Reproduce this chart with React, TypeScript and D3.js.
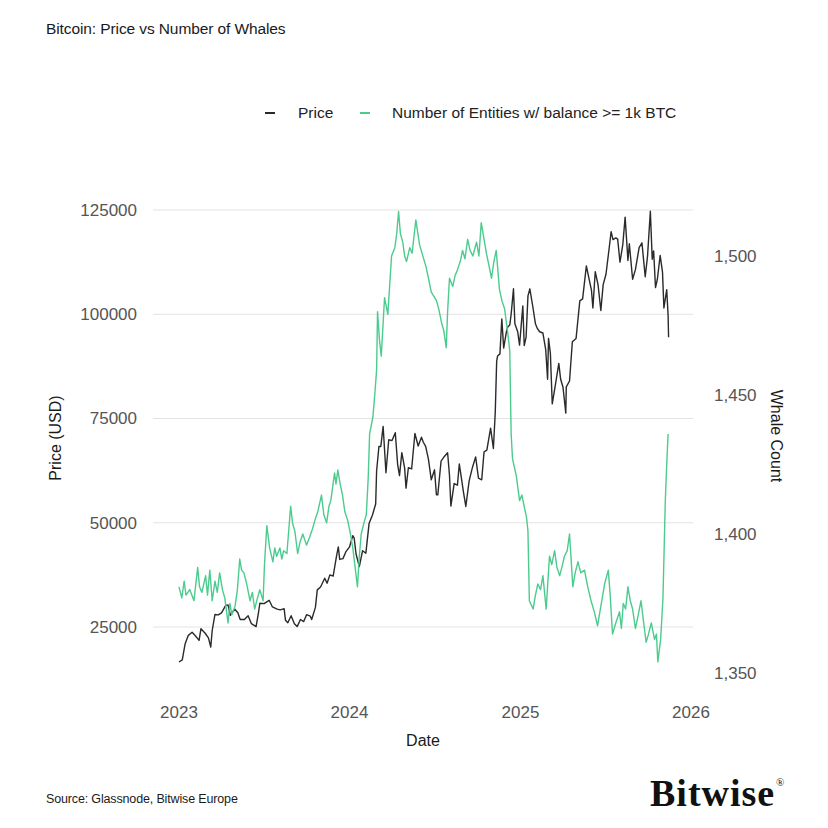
import React, { useEffect } from 'react';
import * as d3 from 'd3';

// Bitcoin price (USD, daily close sampled)
const priceDates = [
  '2023-01-01','2023-01-08','2023-01-14','2023-01-21','2023-01-29','2023-02-05','2023-02-13','2023-02-17','2023-02-26','2023-03-05',
  '2023-03-10','2023-03-13','2023-03-19','2023-03-26','2023-04-02','2023-04-11','2023-04-16','2023-04-21','2023-04-30','2023-05-07',
  '2023-05-12','2023-05-21','2023-05-29','2023-06-05','2023-06-15','2023-06-20','2023-06-23','2023-07-02','2023-07-13','2023-07-20',
  '2023-07-30','2023-08-06','2023-08-14','2023-08-17','2023-08-22','2023-08-29','2023-09-05','2023-09-11','2023-09-18','2023-09-25',
  '2023-10-01','2023-10-09','2023-10-12','2023-10-20','2023-10-24','2023-10-31','2023-11-09','2023-11-14','2023-11-20','2023-11-27',
  '2023-12-04','2023-12-08','2023-12-11','2023-12-18','2023-12-24','2024-01-01','2024-01-08','2024-01-11','2024-01-15','2024-01-22',
  '2024-01-29','2024-02-05','2024-02-12','2024-02-19','2024-02-26','2024-02-28','2024-03-04','2024-03-08','2024-03-13','2024-03-19',
  '2024-03-25','2024-04-01','2024-04-08','2024-04-13','2024-04-17','2024-04-22','2024-04-28','2024-05-01','2024-05-06','2024-05-13',
  '2024-05-20','2024-05-27','2024-06-03','2024-06-07','2024-06-12','2024-06-18','2024-06-24','2024-07-01','2024-07-05','2024-07-08',
  '2024-07-15','2024-07-22','2024-07-29','2024-08-02','2024-08-05','2024-08-12','2024-08-19','2024-08-23','2024-09-01','2024-09-06',
  '2024-09-13','2024-09-20','2024-09-27','2024-10-03','2024-10-10','2024-10-15','2024-10-21','2024-10-29','2024-11-04','2024-11-08',
  '2024-11-11','2024-11-13','2024-11-18','2024-11-22','2024-11-26','2024-12-02','2024-12-05','2024-12-09','2024-12-12','2024-12-17',
  '2024-12-20','2024-12-26','2024-12-30','2025-01-06','2025-01-09','2025-01-13','2025-01-17','2025-01-21','2025-01-27','2025-02-02',
  '2025-02-06','2025-02-11','2025-02-18','2025-02-24','2025-02-28','2025-03-02','2025-03-06','2025-03-10','2025-03-16','2025-03-24',
  '2025-03-28','2025-04-02','2025-04-08','2025-04-09','2025-04-16','2025-04-22','2025-04-30','2025-05-08','2025-05-14','2025-05-22',
  '2025-05-27','2025-06-02','2025-06-05','2025-06-10','2025-06-16','2025-06-22','2025-06-27','2025-07-03','2025-07-10','2025-07-14',
  '2025-07-18','2025-07-24','2025-07-28','2025-08-02','2025-08-08','2025-08-13','2025-08-19','2025-08-22','2025-08-29','2025-09-04',
  '2025-09-12','2025-09-18','2025-09-25','2025-09-30','2025-10-06','2025-10-10','2025-10-13','2025-10-17','2025-10-21','2025-10-27',
  '2025-11-01','2025-11-04','2025-11-10','2025-11-13','2025-11-14',
];
const priceValues = [
  16600,17100,20900,23000,23750,22900,21800,24600,23500,22400,
  20200,24100,28000,27900,28400,30200,30300,27800,29300,28400,
  26800,26800,27700,25800,25100,28300,30700,30600,31400,29800,
  29300,29100,29400,26600,26000,27700,25800,25100,26800,26300,
  27950,27600,26800,29700,33900,34600,36700,35500,37500,37200,
  41900,44200,41200,41400,43000,44200,46900,46300,42500,39500,
  43300,42700,49900,51800,54500,62400,68300,68300,73100,62000,
  69900,69700,71600,64000,61300,66800,63100,58300,63200,62900,
  71400,68400,70500,69300,68300,65200,60300,62700,56700,56700,
  64800,65900,66800,61400,54000,59400,59000,64100,57300,53900,
  60000,63200,65800,60700,60300,67000,67400,72700,67800,76500,
  88700,90000,90500,98900,91900,95900,97000,97400,100000,106100,
  97700,95800,92600,102000,92500,94500,104400,106100,102100,97700,
  96600,95800,95500,91500,84400,94200,90600,78500,82600,88200,
  84400,82500,76300,82600,84000,93400,94200,103200,103700,111600,
  108900,105700,101500,110200,107100,100900,107100,109600,116000,119800,
  117900,118300,118000,112500,116700,123300,112900,116900,108400,110700,
  116000,117100,109000,114000,124700,113200,115200,106400,108400,114100,
  110100,101500,105900,99700,94500,
];

// Number of entities holding >= 1k BTC
const whaleDates = [
  '2023-01-01','2023-01-07','2023-01-12','2023-01-16','2023-01-24','2023-02-02','2023-02-10','2023-02-14','2023-02-19','2023-02-27',
  '2023-03-03','2023-03-08','2023-03-13','2023-03-19','2023-03-24','2023-03-29','2023-04-04','2023-04-09','2023-04-16','2023-04-20',
  '2023-04-24','2023-05-01','2023-05-06','2023-05-11','2023-05-15','2023-05-20','2023-05-26','2023-06-02','2023-06-07','2023-06-12',
  '2023-06-18','2023-06-23','2023-06-30','2023-07-03','2023-07-08','2023-07-14','2023-07-21','2023-07-25','2023-07-29','2023-08-05',
  '2023-08-09','2023-08-13','2023-08-20','2023-08-28','2023-09-01','2023-09-06','2023-09-12','2023-09-17','2023-09-23','2023-10-01',
  '2023-10-08','2023-10-14','2023-10-19','2023-10-25','2023-11-02','2023-11-07','2023-11-13','2023-11-18','2023-11-22','2023-11-30',
  '2023-12-03','2023-12-07','2023-12-12','2023-12-17','2023-12-22','2023-12-28','2024-01-03','2024-01-08','2024-01-13','2024-01-18',
  '2024-01-22','2024-01-26','2024-02-01','2024-02-06','2024-02-10','2024-02-13','2024-02-20','2024-02-24','2024-02-28','2024-03-01',
  '2024-03-05','2024-03-09','2024-03-16','2024-03-23','2024-03-31','2024-04-07','2024-04-11','2024-04-15','2024-04-19','2024-04-24',
  '2024-04-28','2024-05-02','2024-05-09','2024-05-14','2024-05-18','2024-05-22','2024-05-30','2024-06-06','2024-06-13','2024-06-18',
  '2024-06-24','2024-07-05','2024-07-10','2024-07-16','2024-07-21','2024-07-26','2024-07-29','2024-08-02','2024-08-09','2024-08-14',
  '2024-08-19','2024-08-25','2024-08-30','2024-09-04','2024-09-10','2024-09-15','2024-09-21','2024-09-29','2024-10-04','2024-10-09',
  '2024-10-14','2024-10-20','2024-10-25','2024-10-31','2024-11-05','2024-11-10','2024-11-17','2024-11-22','2024-11-28','2024-12-05',
  '2024-12-09','2024-12-12','2024-12-15','2024-12-19','2024-12-23','2024-12-30','2025-01-04','2025-01-10','2025-01-14','2025-01-17',
  '2025-01-20','2025-01-28','2025-02-02','2025-02-07','2025-02-13','2025-02-18','2025-02-25','2025-03-04','2025-03-09','2025-03-15',
  '2025-03-20','2025-03-26','2025-04-01','2025-04-05','2025-04-11','2025-04-16','2025-04-23','2025-04-28','2025-05-04','2025-05-10',
  '2025-05-18','2025-05-25','2025-06-01','2025-06-08','2025-06-15','2025-06-22','2025-06-30','2025-07-08','2025-07-12','2025-07-17',
  '2025-07-24','2025-08-01','2025-08-05','2025-08-09','2025-08-14','2025-08-19','2025-08-24','2025-08-29','2025-09-04','2025-09-09',
  '2025-09-16','2025-09-21','2025-09-27','2025-10-02','2025-10-08','2025-10-15','2025-10-19','2025-10-22','2025-10-28','2025-11-02',
  '2025-11-07','2025-11-10','2025-11-13',
];
const whaleValues = [
  1381,1377,1383,1378,1380,1376,1388,1381,1379,1385,
  1378,1387,1376,1383,1379,1386,1380,1377,1368,1375,
  1371,1374,1380,1391,1387,1386,1382,1376,1379,1373,
  1377,1380,1376,1389,1403,1395,1390,1395,1392,1395,
  1391,1394,1393,1410,1404,1401,1393,1397,1400,1396,
  1399,1402,1405,1408,1414,1407,1404,1410,1412,1422,
  1418,1423,1418,1414,1408,1405,1400,1395,1388,1381,
  1392,1400,1404,1407,1420,1436,1442,1450,1459,1480,
  1470,1464,1485,1479,1500,1503,1508,1516,1508,1505,
  1500,1498,1503,1501,1507,1513,1504,1500,1496,1492,
  1487,1484,1481,1476,1473,1467,1480,1492,1489,1493,
  1495,1498,1502,1499,1506,1502,1500,1505,1500,1512,
  1507,1501,1497,1492,1498,1502,1488,1484,1481,1472,
  1466,1436,1427,1424,1421,1412,1414,1409,1406,1401,
  1376,1373,1378,1382,1380,1385,1373,1392,1389,1394,
  1388,1385,1389,1392,1394,1400,1381,1386,1390,1386,
  1387,1381,1376,1372,1367,1374,1382,1387,1378,1364,
  1368,1372,1366,1375,1373,1381,1376,1373,1366,1370,
  1376,1369,1361,1364,1368,1362,1364,1354,1362,1377,
  1412,1425,1436,
];

const priceTicks = [25000, 50000, 75000, 100000, 125000];
const whaleTicks = [1350, 1400, 1450, 1500];
const yearTicks = ['2023-01-01', '2024-01-01', '2025-01-01', '2026-01-01'];

const FONT = '"Liberation Sans", Arial, Helvetica, sans-serif';
const GREEN = '#4ccb8e';
const DARK = '#2a2a2a';

const App: React.FC = () => {
  useEffect(() => {
    document.body.style.margin = '0';
  }, []);

  const parse = d3.timeParse('%Y-%m-%d');
  const plotLeft = 153;
  const plotRight = 693;

  const x = d3.scaleTime()
    .domain([parse('2023-01-01') as Date, parse('2026-01-01') as Date])
    .range([179, 691]);
  const yPrice = d3.scaleLinear().domain([25000, 125000]).range([627, 210]);
  const yWhale = d3.scaleLinear().domain([1350, 1500]).range([673, 256]);

  const priceData = priceDates.map((d, i) => ({ date: parse(d) as Date, v: priceValues[i] }));
  const whaleData = whaleDates.map((d, i) => ({ date: parse(d) as Date, v: whaleValues[i] }));

  const priceLine = d3.line<{ date: Date; v: number }>()
    .x(d => x(d.date))
    .y(d => yPrice(d.v));
  const whaleLine = d3.line<{ date: Date; v: number }>()
    .x(d => x(d.date))
    .y(d => yWhale(d.v));

  const fmtWhale = d3.format(',');

  return (
    <svg width={828} height={828} style={{ display: 'block', background: '#fff' }} fontFamily={FONT}>
      <rect width={828} height={828} fill="#fff" />

      {/* title */}
      <text x={46} y={34} fontSize={15.5} fill="#1a1a1a" letterSpacing={-0.1}>
        Bitcoin: Price vs Number of Whales
      </text>

      {/* legend */}
      <g fontSize={15.5} fill="#222">
        <line x1={265} x2={275} y1={113} y2={113} stroke={DARK} strokeWidth={2} />
        <text x={298} y={118}>Price</text>
        <line x1={360} x2={370} y1={113} y2={113} stroke={GREEN} strokeWidth={2} />
        <text x={392} y={118}>Number of Entities w/ balance &gt;= 1k BTC</text>
      </g>

      {/* grid + left axis */}
      <g>
        {priceTicks.map(t => (
          <g key={t}>
            <line x1={plotLeft} x2={plotRight} y1={yPrice(t)} y2={yPrice(t)} stroke="#e3e3e3" strokeWidth={1} />
            <text x={137} y={yPrice(t)} dy="0.35em" textAnchor="end" fontSize={17} fill="#555">
              {t}
            </text>
          </g>
        ))}
      </g>

      {/* right axis */}
      <g>
        {whaleTicks.map(t => (
          <text key={t} x={714} y={yWhale(t)} dy="0.35em" fontSize={17} fill="#555">
            {fmtWhale(t)}
          </text>
        ))}
      </g>

      {/* x axis */}
      <g>
        {yearTicks.map(t => (
          <text key={t} x={x(parse(t) as Date)} y={712} dy="0.35em" textAnchor="middle" fontSize={17} fill="#555">
            {t.slice(0, 4)}
          </text>
        ))}
      </g>

      {/* axis titles */}
      <text transform="translate(55,438) rotate(-90)" textAnchor="middle" dy="0.35em" fontSize={16} fill="#1a1a1a">
        Price (USD)
      </text>
      <text transform="translate(777,436) rotate(90)" textAnchor="middle" dy="0.35em" fontSize={16} fill="#1a1a1a">
        Whale Count
      </text>
      <text x={423} y={740} dy="0.35em" textAnchor="middle" fontSize={16} fill="#1a1a1a">
        Date
      </text>

      {/* series */}
      <path d={priceLine(priceData) || ''} fill="none" stroke={DARK} strokeWidth={1.4} strokeLinejoin="round" />
      <path d={whaleLine(whaleData) || ''} fill="none" stroke={GREEN} strokeWidth={1.4} strokeLinejoin="round" />

      {/* footer */}
      <text x={46} y={799} dy="0.35em" fontSize={12.5} fill="#1a1a1a" letterSpacing={-0.15}>
        Source: Glassnode, Bitwise Europe
      </text>
      <text x={650} y={806} fontSize={38} fontWeight="bold" fill="#111" fontFamily='"Liberation Serif", "DejaVu Serif", serif' letterSpacing={1}>
        Bitwise
      </text>
      <text x={776} y={786} fontSize={11} fill="#111" fontFamily='"Liberation Serif", serif'>®</text>
    </svg>
  );
};

export default App;
